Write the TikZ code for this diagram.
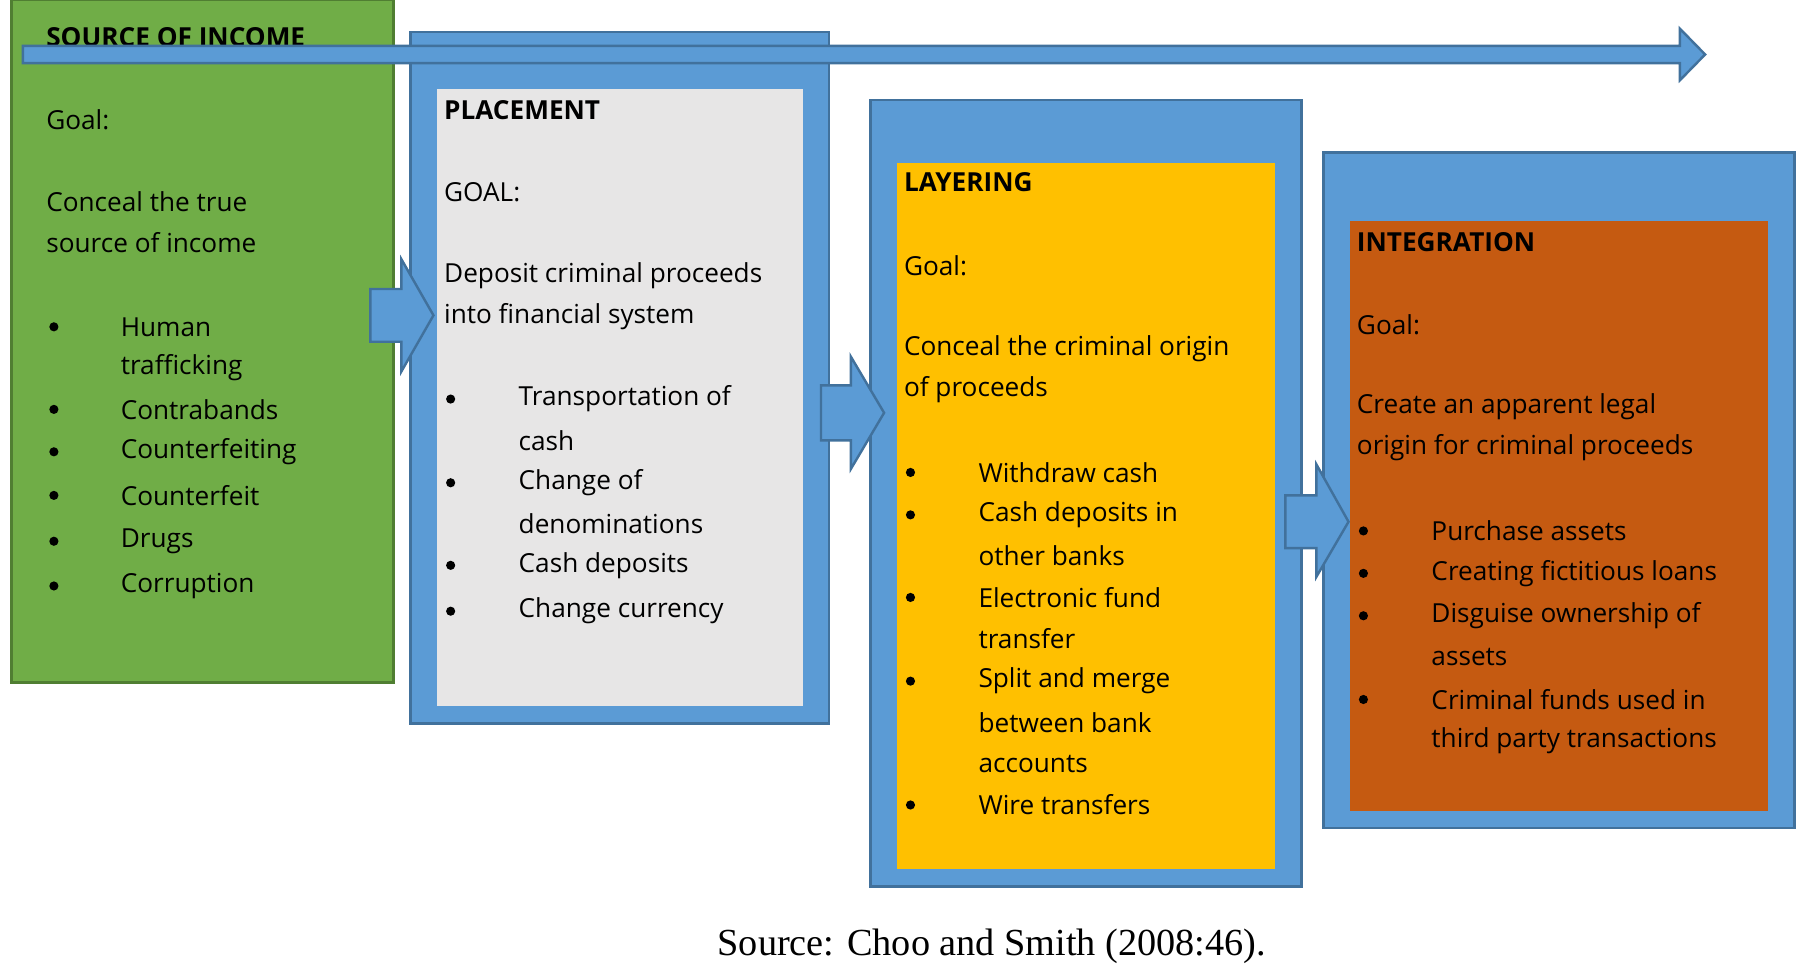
\documentclass[tikz,border=0pt]{standalone}
\usepackage{fontspec}
\setmainfont{Open Sans}
\newfontfamily\srcfont{Liberation Serif}
\usetikzlibrary{positioning,shapes.arrows}
\definecolor{stageblue}{HTML}{5B9BD5}
\definecolor{stageedge}{HTML}{41719C}
\definecolor{srcgreen}{HTML}{70AD47}
\definecolor{srcedge}{HTML}{507E32}
\definecolor{placegrey}{HTML}{E7E6E6}
\definecolor{layeryellow}{HTML}{FFC000}
\definecolor{integorange}{HTML}{C55A11}
\tikzset{outer box/.style={draw=stageedge,line width=1.2pt,fill=stageblue},
         inner box/.style={draw=none},
         line/.style={anchor=west,inner sep=0pt,font=\fontsize{13}{15}\selectfont},
         title/.style={line,font=\fontsize{13}{15}\selectfont\bfseries},
         bullet/.style={circle,fill=black,inner sep=0pt,minimum size=1.6mm},
         flow/.style={draw=stageedge,line width=1.2pt,fill=stageblue},
}
\begin{document}
\begin{tikzpicture}[x=0.02cm,y=-0.02cm]
\useasboundingbox (0,0) rectangle (1568,846);
% stage boxes
\draw[draw=srcedge,line width=1.2pt,fill=srcgreen] (10,0) rectangle (343,595);
\draw[outer box] (358,28) rectangle (723,631);
\fill[placegrey] (381,78) rectangle (700,616);
\draw[outer box] (759,87) rectangle (1135,773);
\fill[layeryellow] (782,142) rectangle (1112,758);
\draw[outer box] (1154,133) rectangle (1565,722);
\fill[integorange] (1177,193) rectangle (1542,707);
% block arrows
\draw[flow] (323,252) -- (350,252) -- (350,226) -- (378,275) -- (350,324) -- (350,298) -- (323,298) -- cycle;
\draw[flow] (716,336) -- (742,336) -- (742,311) -- (771,360) -- (742,409) -- (742,384) -- (716,384) -- cycle;
\draw[flow] (1121,432) -- (1148,432) -- (1148,405) -- (1176,455) -- (1148,503) -- (1148,478) -- (1121,478) -- cycle;
% source of income
\node[title] (s0) at (40,32) {SOURCE OF INCOME};
\draw[flow] (20,40) -- (1465,40) -- (1465,25) -- (1487,47.5) -- (1465,70) -- (1465,55) -- (20,55) -- cycle;
\foreach \y/\t [count=\i] in {104/Goal:,176/Conceal the true,212/source of income}
  \node[line] (s\i) at (40,\y) {\t};
\foreach \y/\t [count=\i] in {285/Human,357/Contrabands,394/Counterfeiting,432/Counterfeit,472/Drugs,511/Corruption}
  {\node[bullet] (sb\i) at (47,\y) {};
   \node[line] (st\i) at (105,\y) {\t};}
\node[line] (st0) at (105,321) {trafficking};
% placement
\node[title] (p0) at (387,96) {PLACEMENT};
\foreach \y/\t [count=\i] in {168/GOAL:,240/Deposit criminal proceeds,276/into financial system}
  \node[line] (p\i) at (387,\y) {\t};
\foreach \y/\t [count=\i] in {348/Transportation of,421/Change of,493/Cash deposits,533/Change currency}
  {\node[bullet] (pb\i) at (393,\y) {};
   \node[line] (pt\i) at (452,\y) {\t};}
\foreach \y/\t [count=\i] in {384/cash,457/denominations}
  \node[line] (pc\i) at (452,\y) {\t};
% layering
\node[title] (l0) at (788,159) {LAYERING};
\foreach \y/\t [count=\i] in {232/Goal:,304/Conceal the criminal origin,340/of proceeds}
  \node[line] (l\i) at (788,\y) {\t};
\foreach \y/\t [count=\i] in {412/Withdraw cash,449/Cash deposits in,521/Electronic fund,594/Split and merge,702/Wire transfers}
  {\node[bullet] (lb\i) at (794,\y) {};
   \node[line] (lt\i) at (853,\y) {\t};}
\foreach \y/\t [count=\i] in {485/other banks,557/transfer,630/between bank,666/accounts}
  \node[line] (lc\i) at (853,\y) {\t};
% integration
\node[title] (n0) at (1183,211) {INTEGRATION};
\foreach \y/\t [count=\i] in {283/Goal:,355/Create an apparent legal,390/origin for criminal proceeds}
  \node[line] (n\i) at (1183,\y) {\t};
\foreach \y/\t [count=\i] in {463/Purchase assets,500/Creating fictitious loans,537/Disguise ownership of,610/Criminal funds used in}
  {\node[bullet] (nb\i) at (1189,\y) {};
   \node[line] (nt\i) at (1248,\y) {\t};}
\foreach \y/\t [count=\i] in {573/assets,646/third party transactions}
  \node[line] (nc\i) at (1248,\y) {\t};
% caption
\node[font=\srcfont\fontsize{19}{22}\selectfont] (cap) at (865,825) {Source: Choo and Smith (2008:46).};
\end{tikzpicture}
\end{document}
